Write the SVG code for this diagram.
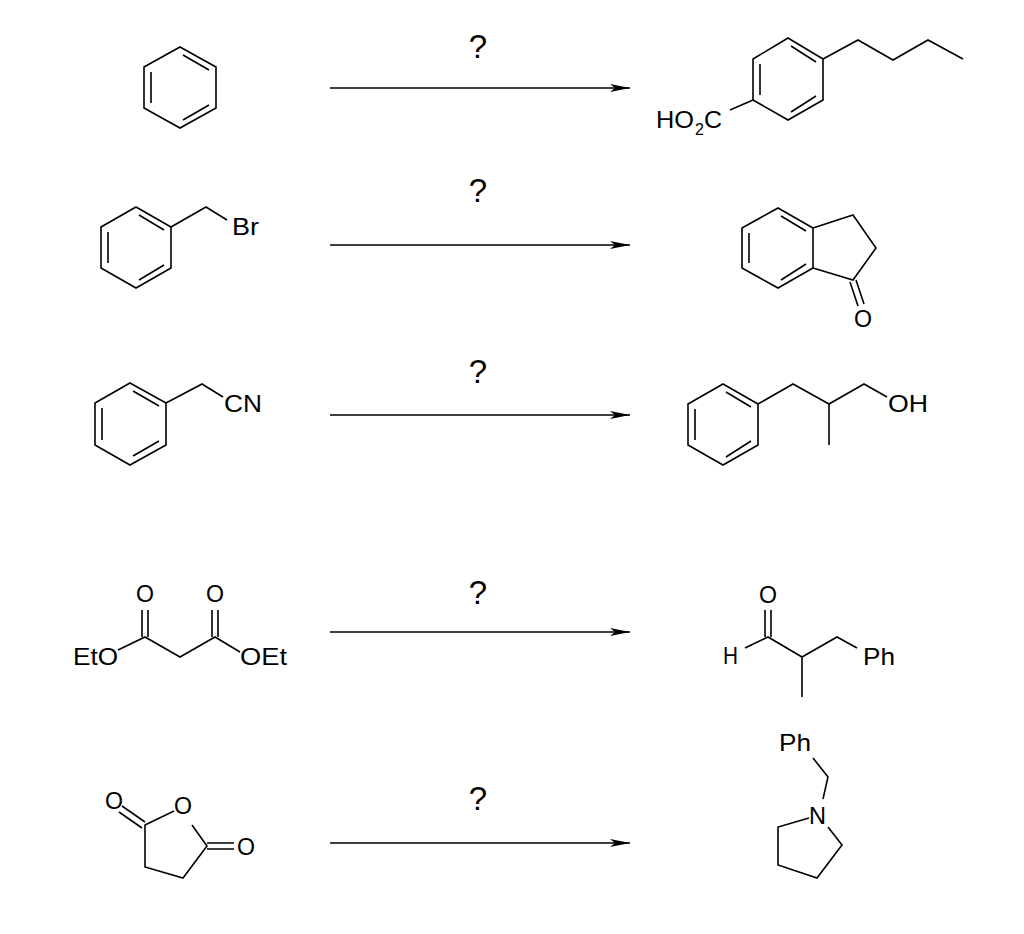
<svg xmlns="http://www.w3.org/2000/svg" width="1024" height="934" viewBox="0 0 1024 934">
<defs>
<style>
.b{fill:none;stroke:#000;stroke-width:1.6;stroke-linejoin:miter}
.t{font-family:"Liberation Sans",Arial,sans-serif;font-size:24px;fill:#000}
.q{font-family:"Liberation Sans",Arial,sans-serif;font-size:33px;fill:#000;text-anchor:middle}
.a{stroke:#000;stroke-width:1.6;fill:none}
</style>
<marker id="ah" viewBox="0 0 20 10" refX="20" refY="5" markerWidth="20" markerHeight="10" markerUnits="userSpaceOnUse" orient="auto"><path d="M0,1 L20,5 L0,9 L5,5 Z" fill="#000"/></marker>
</defs>
<rect width="1024" height="934" fill="#fff"/>
<g id="benzene">
<path class="b" d="M180,47 L216,67 L216,108 L180,128 L144,108 L144,67 Z M183,55 L209,70 M209,105 L183,120 M151,72 L151,103"/>
</g>
<g id="benzylbromide">
<path class="b" d="M136,207 L171,227 L171,268 L136,288 L101,268 L101,227 Z M139,215 L164,230 M164,265 L139,280 M108,232 L108,263 M171,227 L206,207 L227,220"/>
<text class="t" x="232" y="235" textLength="27" lengthAdjust="spacingAndGlyphs">Br</text>
</g>
<g id="benzylcyanide">
<path class="b" d="M130,383 L166,403 L166,445 L130,465 L95,445 L95,403 Z M133,391 L159,406 M159,441 L133,456 M102,408 L102,440 M166,403 L202,384 L223,397"/>
<text class="t" x="224" y="412" textLength="38" lengthAdjust="spacingAndGlyphs">CN</text>
</g>
<g id="malonate">
<path class="b" d="M118,650 L145,637 L180,657 L215,637 L240,652 M142,637 L142,610 M148,637 L148,610 M212,637 L212,610 M218,637 L218,610"/>
<text class="t" x="136" y="602" textLength="18" lengthAdjust="spacingAndGlyphs">O</text>
<text class="t" x="206" y="602" textLength="18" lengthAdjust="spacingAndGlyphs">O</text>
<text class="t" x="73" y="665" textLength="45" lengthAdjust="spacingAndGlyphs">EtO</text>
<text class="t" x="240" y="665" textLength="47" lengthAdjust="spacingAndGlyphs">OEt</text>
</g>
<g id="anhydride">
<path class="b" d="M174,811 L145,825 L145,867 L183,878 L207,846 L192,825 M145,822 L122,806 M142,828 L119,812 M207,843 L234,843 M207,849 L234,849"/>
<text class="t" x="174" y="814" textLength="18" lengthAdjust="spacingAndGlyphs">O</text>
<text class="t" x="105" y="809" textLength="18" lengthAdjust="spacingAndGlyphs">O</text>
<text class="t" x="237" y="855" textLength="18" lengthAdjust="spacingAndGlyphs">O</text>
</g>
<g id="product1">
<path class="b" d="M788,38 L823,59 L823,100 L788,120 L753,100 L753,59 Z M791,46 L816,62 M816,96 L791,112 M760,64 L760,95 M823,59 L858,40 L893,60 L928,40 L963,59 M753,100 L730,110"/>
<text class="t" x="656" y="128" textLength="38" lengthAdjust="spacingAndGlyphs">HO</text>
<text class="t" x="695" y="135" style="font-size:16px">2</text>
<text class="t" x="704" y="128" textLength="18" lengthAdjust="spacingAndGlyphs">C</text>
</g>
<g id="indanone">
<path class="b" d="M778,208 L813,228 L813,268 L778,288 L742,268 L742,228 Z M781,216 L806,231 M806,264 L781,280 M749,233 L749,263 M813,228 L853,215 L876,248 L853,280 L813,268 M850,282 L858,306 M856,280 L864,304"/>
<text class="t" x="854" y="327" textLength="18" lengthAdjust="spacingAndGlyphs">O</text>
</g>
<g id="product3">
<path class="b" d="M723,384 L758,404 L758,445 L723,465 L688,445 L688,404 Z M726,392 L751,407 M751,441 L726,457 M695,409 L695,440 M758,404 L793,384 L829,404 L864,384 L887,397 M829,404 L829,445"/>
<text class="t" x="888" y="412" textLength="40" lengthAdjust="spacingAndGlyphs">OH</text>
</g>
<g id="aldehyde">
<path class="b" d="M745,648 L768,637 L802,657 L837,637 L857,648 M802,657 L802,697 M765,637 L765,610 M771,637 L771,610"/>
<text class="t" x="759" y="603" textLength="18" lengthAdjust="spacingAndGlyphs">O</text>
<text class="t" x="723" y="664" textLength="15" lengthAdjust="spacingAndGlyphs">H</text>
<text class="t" x="863" y="665" textLength="32" lengthAdjust="spacingAndGlyphs">Ph</text>
</g>
<g id="pyrrolidine">
<path class="b" d="M813,758 L828,777 L823,799 M809,818 L778,827 L778,865 L817,878 L842,845 L828,827"/>
<text class="t" x="779" y="751" textLength="32" lengthAdjust="spacingAndGlyphs">Ph</text>
<text class="t" x="809" y="824" textLength="17" lengthAdjust="spacingAndGlyphs">N</text>
</g>
<g id="connectors">
<line class="a" x1="330" y1="88" x2="630" y2="88" marker-end="url(#ah)"/>
<line class="a" x1="330" y1="245" x2="630" y2="245" marker-end="url(#ah)"/>
<line class="a" x1="330" y1="415" x2="630" y2="415" marker-end="url(#ah)"/>
<line class="a" x1="330" y1="632" x2="630" y2="632" marker-end="url(#ah)"/>
<line class="a" x1="330" y1="843" x2="630" y2="843" marker-end="url(#ah)"/>
<text class="q" x="478" y="58">?</text>
<text class="q" x="478" y="202">?</text>
<text class="q" x="478" y="383">?</text>
<text class="q" x="478" y="604">?</text>
<text class="q" x="478" y="810">?</text>
</g>
</svg>
